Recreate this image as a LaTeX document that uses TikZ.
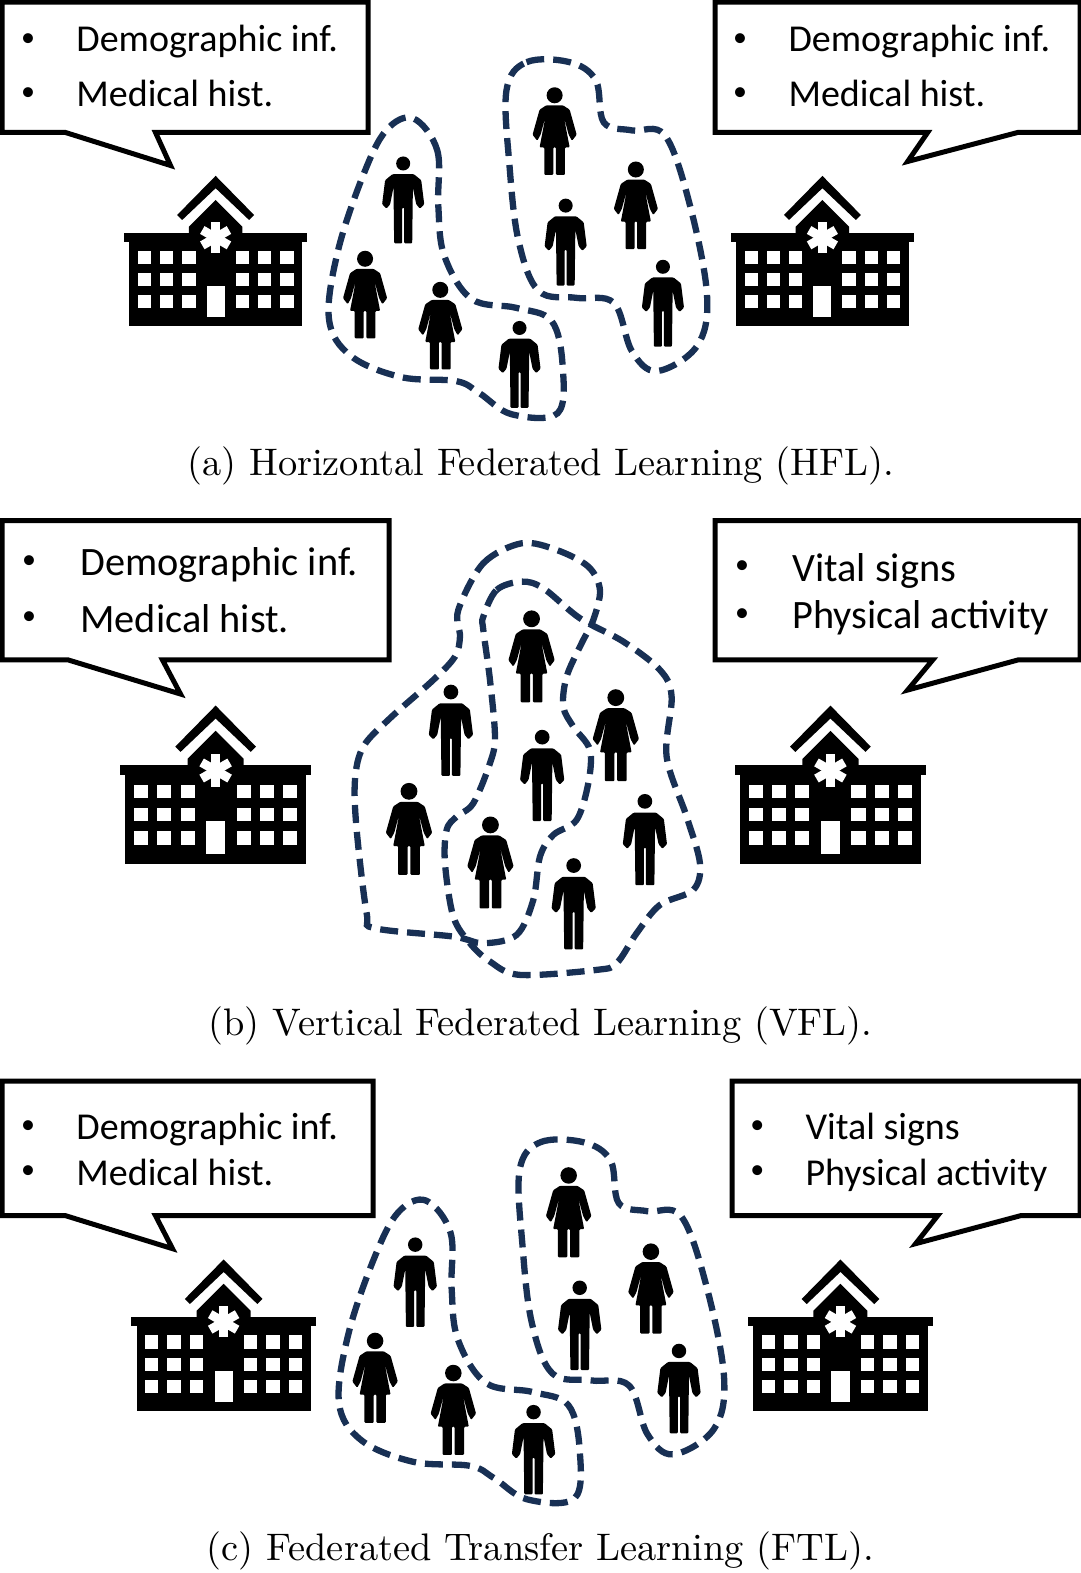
\documentclass[tikz,border=0pt]{standalone}
\usepackage{xcolor}
\usepackage{fontspec}
\usepackage{tikz}
\usetikzlibrary{calc}
\newfontfamily\calloutfont{Carlito}
\newfontfamily\captionfont{lmroman10-regular.otf}
\definecolor{blobnavy}{RGB}{24,48,84}

% Outlines of the two patient groups of panels (a) and (c)
\newcommand{\blobleftpts}{(412,118) (436,150) (437,205) (443,255) (470,298) (515,307) (550,320) (561,365) (556,412) (510,413) (478,392) (455,380) (400,376) (350,355) (328,318) (337,250) (362,175) (385,130)}
\newcommand{\blobrightpts}{(505,90) (525,62) (568,62) (594,80) (602,122) (630,130) (663,135) (688,205) (705,295) (695,345) (655,370) (630,350) (612,302) (575,297) (537,290) (517,240) (508,165)}

\tikzset{
    calloutbox/.style={draw=black,fill=white,line width=5pt,miter limit=10},
    blobline/.style={draw=blobnavy,line width=6.3pt,dash pattern=on 18pt off 9pt},
    itemtext/.style={font=\calloutfont\fontsize{38}{42}\selectfont,anchor=base west,inner sep=0},
    itemtextbig/.style={font=\calloutfont\fontsize{40.3}{44}\selectfont,anchor=base west,inner sep=0},
    itemdot/.style={font=\calloutfont\fontsize{28}{32}\selectfont,anchor=base,inner sep=0},
    captiontext/.style={font=\captionfont\fontsize{38.4}{42}\selectfont,anchor=base,inner sep=0},
    pics/hospital/.style={code={
        \begin{scope}[scale=1/3]
        \fill (0,-170) -- (115,-53) -- (100,-38) -- (0,-133) -- (-100,-38) -- (-115,-53) -- cycle;
        \fill (0,-98) -- (80,-18) -- (80,5) -- (-80,5) -- (-80,-18) -- cycle;
        \fill (-273,0) rectangle (273,28);
        \fill (-258,28) rectangle (258,280);
        \foreach \wx in {-233,-167,-100,60,126,193}
            \foreach \wy in {55,121,187}
                \fill[white] (\wx,\wy) rectangle ++(40,39);
        \fill[white] (-27,160) rectangle (27,252);
        \foreach \ang in {90,30,-30}
            \draw[white,line width=9pt] ($(0,15)+(\ang:46)$) -- ($(0,15)+(\ang+180:46)$);
        \end{scope}
    }},
    pics/man/.style={code={
        \begin{scope}[scale=1/3]
        \fill (0,0) circle (21);
        \fill[rounded corners=1pt] (-32,32) -- (32,32) -- (54,50) -- (63,122) -- (50,135) -- (39,122) -- (29,72) -- (27,239) -- (3,239) -- (3,132) -- (-3,132) -- (-3,239) -- (-27,239) -- (-29,72) -- (-39,122) -- (-50,135) -- (-63,122) -- (-54,50) -- cycle;
        \end{scope}
    }},
    pics/woman/.style={code={
        \begin{scope}[scale=1/3]
        \fill (0,0) circle (24);
        \fill[rounded corners=1pt] (-25,30) -- (25,30) -- (45,43) -- (66,118) -- (52,136) -- (42,118) -- (27,62) -- (45,156) -- (31,156) -- (31,238) -- (4,238) -- (4,156) -- (-4,156) -- (-4,238) -- (-31,238) -- (-31,156) -- (-45,156) -- (-27,62) -- (-42,118) -- (-52,136) -- (-66,118) -- (-45,43) -- cycle;
        \end{scope}
    }},
}

\begin{document}
\begin{tikzpicture}[x=1.003pt,y=-1.003pt]
    \useasboundingbox (0,0) rectangle (1077.8,1568.4);

    % Panel (a): callouts
    \draw[calloutbox] (2,2) -- (367,2) -- (367,132) -- (155,132) -- (170,165) -- (65,132) -- (2,132) -- cycle;
    \draw[calloutbox] (713,2) -- (1077,2) -- (1077,132) -- (1015,132) -- (905,161) -- (925,132) -- (713,132) -- cycle;
    \node[itemdot] (a1dot) at (28,46) {•};
    \node[itemtext] (a1text) at (76,51) {Demographic inf.};
    \node[itemdot] (a2dot) at (28,100) {•};
    \node[itemtext] (a2text) at (76,106) {Medical hist.};
    \node[itemdot] (a3dot) at (738,46) {•};
    \node[itemtext] (a3text) at (786,51) {Demographic inf.};
    \node[itemdot] (a4dot) at (738,100) {•};
    \node[itemtext] (a4text) at (786,106) {Medical hist.};

    % Panel (a): hospitals
    \pic at (215,232) {hospital};
    \pic at (820,232) {hospital};

    % Panel (a): patients
    \draw[blobline] plot[smooth cycle,tension=0.6] coordinates {\blobleftpts};
    \draw[blobline] plot[smooth cycle,tension=0.6] coordinates {\blobrightpts};
    \pic at (402,163) {man};
    \pic at (364,258) {woman};
    \pic at (439,289) {woman};
    \pic at (518,327) {man};
    \pic at (553,95) {woman};
    \pic at (634,169) {woman};
    \pic at (564,205) {man};
    \pic at (661,266) {man};

    \node[captiontext] (capa) at (539,474) {(a) Horizontal Federated Learning (HFL).};

    % Panel (b): callouts
    \draw[calloutbox] (2,519) -- (388,519) -- (388,658) -- (162,658) -- (180,692) -- (68,658) -- (2,658) -- cycle;
    \draw[calloutbox] (713,519) -- (1077,519) -- (1077,658) -- (1015,658) -- (905,688) -- (930,658) -- (713,658) -- cycle;
    \node[itemdot] (b1dot) at (29,567) {•};
    \node[itemtextbig] (b1text) at (80,574) {Demographic inf.};
    \node[itemdot] (b2dot) at (29,623) {•};
    \node[itemtextbig] (b2text) at (80,631) {Medical hist.};
    \node[itemdot] (b3dot) at (740,572) {•};
    \node[itemtextbig] (b3text) at (790,580) {Vital signs};
    \node[itemdot] (b4dot) at (740,620) {•};
    \node[itemtextbig] (b4text) at (790,627) {Physical activity};

    % Panel (b): hospitals
    \pic[scale=1.05] at (215,763) {hospital};
    \pic[scale=1.05] at (828,763) {hospital};

    % Panel (b): patients
    \begin{scope}[shift={(339,528.4)},scale=0.3323]
        \draw[blobline] plot[smooth cycle,tension=0.55] coordinates {(355,240) (430,100) (545,40) (650,60) (745,110) (780,180) (760,270) (725,340) (680,440) (670,530) (700,590) (750,660) (745,760) (710,870) (640,915) (600,980) (580,1110) (530,1215) (430,1240) (340,1220) (105,1195) (80,1150) (50,900) (45,750) (70,650) (150,565) (280,450) (345,380) (360,320)};
        \draw[blobline] plot[smooth cycle,tension=0.55] coordinates {(430,260) (470,180) (545,155) (610,175) (720,265) (850,335) (960,420) (995,500) (980,680) (1040,860) (1080,1000) (1060,1080) (960,1125) (890,1210) (830,1300) (770,1320) (540,1335) (450,1295) (390,1240) (340,1160) (315,1000) (320,900) (350,860) (400,820) (450,700) (465,620) (450,450) (430,300)};
    \end{scope}
    \pic[scale=1.05] at (530,617) {woman};
    \pic[scale=1.05] at (449.6,690) {man};
    \pic[scale=1.05] at (614,695.6) {woman};
    \pic[scale=1.05] at (540.6,735) {man};
    \pic[scale=1.05] at (407.8,789) {woman};
    \pic[scale=1.05] at (489,822.5) {woman};
    \pic[scale=1.05] at (643,799) {man};
    \pic[scale=1.05] at (572,863) {man};

    \node[captiontext] (capb) at (539,1032) {(b) Vertical Federated Learning (VFL).};

    % Panel (c): callouts
    \draw[calloutbox] (2,1078) -- (372,1078) -- (372,1212) -- (155,1212) -- (172,1245) -- (65,1212) -- (2,1212) -- cycle;
    \draw[calloutbox] (730,1078) -- (1077,1078) -- (1077,1212) -- (1018,1212) -- (913,1240) -- (935,1212) -- (730,1212) -- cycle;
    \node[itemdot] (c1dot) at (28,1130) {•};
    \node[itemtext] (c1text) at (76,1136) {Demographic inf.};
    \node[itemdot] (c2dot) at (28,1175) {•};
    \node[itemtext] (c2text) at (76,1182) {Medical hist.};
    \node[itemdot] (c3dot) at (755,1130) {•};
    \node[itemtext] (c3text) at (803,1136) {Vital signs};
    \node[itemdot] (c4dot) at (755,1175) {•};
    \node[itemtext] (c4text) at (803,1182) {Physical activity};

    % Panel (c): hospitals
    \pic[scale=1.01] at (223,1313) {hospital};
    \pic[scale=1.01] at (838,1313) {hospital};

    % Panel (c): patients
    \begin{scope}[shift={(0.2,1077.8)},xscale=1.03,yscale=1.01]
        \draw[blobline] plot[smooth cycle,tension=0.6] coordinates {\blobleftpts};
    \end{scope}
    \begin{scope}[shift={(2.9,1076.4)},xscale=1.02,yscale=1.01]
        \draw[blobline] plot[smooth cycle,tension=0.6] coordinates {\blobrightpts};
    \end{scope}
    \pic[scale=1.03] at (414,1241) {man};
    \pic[scale=1.03] at (374,1337) {woman};
    \pic[scale=1.03] at (452,1369) {woman};
    \pic[scale=1.03] at (532,1408) {man};
    \pic[scale=1.03] at (567,1172) {woman};
    \pic[scale=1.03] at (649,1248) {woman};
    \pic[scale=1.03] at (578,1284) {man};
    \pic[scale=1.03] at (677,1347) {man};

    \node[captiontext] (capc) at (539,1556) {(c) Federated Transfer Learning (FTL).};
\end{tikzpicture}
\end{document}
